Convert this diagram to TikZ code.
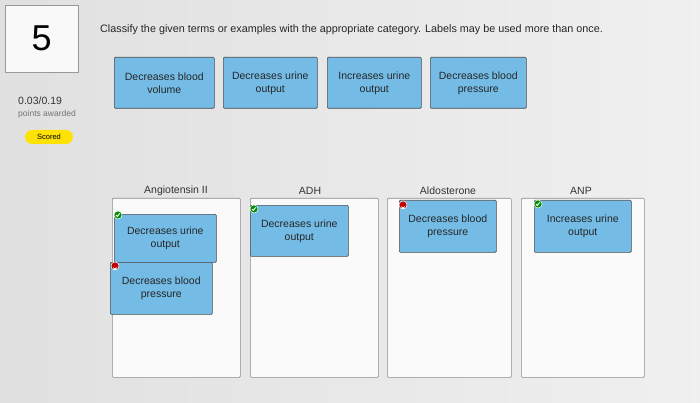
\documentclass[tikz,border=0pt]{standalone}
\usepackage{fontspec}
\setmainfont{Liberation Sans}
\begin{document}
\begin{tikzpicture}[x=1pt,y=-1pt,
  card/.style={draw=black!70,fill=cardblue,line width=0.6pt,rounded corners=1pt,align=center,font=\fontsize{10.5}{13}\selectfont,text=black!85,inner sep=0pt,anchor=north west},
  col/.style={draw=black!45,fill=white!96!gray,line width=0.6pt,rounded corners=1pt,anchor=north west,inner sep=0pt},
  hdr/.style={font=\fontsize{10.5}{12}\selectfont,text=black!80},
  ok/.style={circle,fill=green!55!black,draw=white,line width=0.5pt,minimum size=8pt,inner sep=0pt,
    path picture={\draw[white,line width=0.9pt] ([xshift=-2pt,yshift=0pt]path picture bounding box.center) -- ++(1.3,1.5) -- ++(2.5,-3.2);}},
  bad/.style={circle,fill=red!75!black,draw=white,line width=0.5pt,minimum size=8pt,inner sep=0pt,
    path picture={\draw[white,line width=0.9pt] ([shift={(-1.6pt,-1.6pt)}]path picture bounding box.center) -- ++(3.2,3.2) ++(0,-3.2) -- ++(-3.2,3.2);}}]
\definecolor{cardblue}{HTML}{74BCE6}
\fill[left color=black!12,right color=black!6] (0,0) rectangle (700,403);
\useasboundingbox (0,0) rectangle (700,403);
\node[draw=black!40,fill=white!95!gray,minimum width=73pt,minimum height=67pt,anchor=north west,inner sep=0pt] (num) at (5,5) {\fontsize{36}{38}\selectfont 5};
\node[anchor=west,font=\fontsize{10.5}{12}\selectfont,text=black!80,inner sep=0pt] (score) at (18,101) {0.03/0.19};
\node[anchor=west,font=\fontsize{8.5}{10}\selectfont,text=black!55,inner sep=0pt] (pa) at (18,114) {points awarded};
\node[fill=yellow!85!orange,rounded corners=7pt,minimum width=48pt,minimum height=14pt,font=\fontsize{7.5}{9}\selectfont,inner sep=0pt] (sc) at (49,137) {Scored};
\node[anchor=west,font=\fontsize{10.8}{12}\selectfont,text=black!85,inner sep=0pt] (title) at (100,30) {Classify the given terms or examples with the appropriate category.  Labels may be used more than once.};
% top cards
\node[card,minimum width=100pt,minimum height=51pt] (t1) at (114,57) {Decreases blood\\volume};
\node[card,minimum width=94pt,minimum height=51pt] (t2) at (223,57) {Decreases urine\\output};
\node[card,minimum width=94pt,minimum height=51pt] (t3) at (327,57) {Increases urine\\output};
\node[card,minimum width=96pt,minimum height=51pt] (t4) at (430,57) {Decreases blood\\pressure};
% columns
\node[hdr] (h1) at (176,191) {Angiotensin II};
\node[hdr] (h2) at (310,191) {ADH};
\node[hdr] (h3) at (448,191) {Aldosterone};
\node[hdr] (h4) at (581,191) {ANP};
\node[col,minimum width=128pt,minimum height=179pt] (c1) at (112,198) {};
\node[col,minimum width=128pt,minimum height=179pt] (c2) at (250,198) {};
\node[col,minimum width=124pt,minimum height=179pt] (c3) at (387,198) {};
\node[col,minimum width=123pt,minimum height=179pt] (c4) at (521,198) {};
% placed cards
\node[card,minimum width=102pt,minimum height=48pt] (a1) at (114,214) {Decreases urine\\output};
\node[card,minimum width=102pt,minimum height=52pt] (a2) at (110,262) {Decreases blood\\pressure};
\node[card,minimum width=98pt,minimum height=51pt] (b1) at (250,205) {Decreases urine\\output};
\node[card,minimum width=97pt,minimum height=52pt] (d1) at (399,200) {Decreases blood\\pressure};
\node[card,minimum width=97pt,minimum height=52pt] (e1) at (534,200) {Increases urine\\output};
\node[ok] (k1) at (118,215) {};
\node[bad] (k2) at (115,266) {};
\node[ok] (k3) at (254,209) {};
\node[bad] (k4) at (403,205) {};
\node[ok] (k5) at (538,204) {};
\end{tikzpicture}
\end{document}
